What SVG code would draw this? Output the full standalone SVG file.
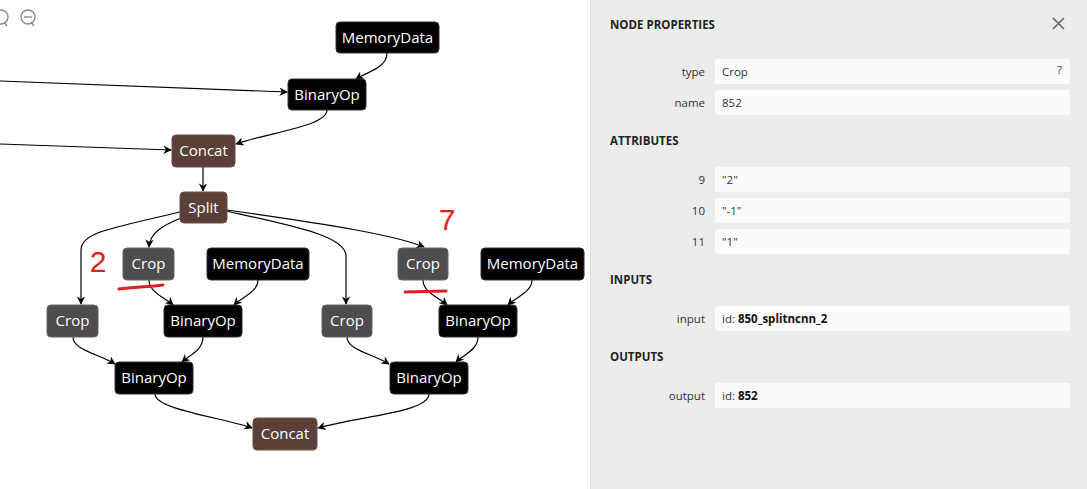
<svg xmlns="http://www.w3.org/2000/svg" width="1087" height="489" viewBox="0 0 1087 489">
<style>
.n rect{stroke:#333;stroke-width:1}
.b rect{fill:#000}.c rect{fill:#4d4d4d;stroke:#666}.k rect{fill:#5a4038;stroke:#6b5048}
.n text{font-family:"Open Sans","Segoe UI",sans-serif;font-size:15px;fill:#fff;text-anchor:middle}
#edges path{fill:none;stroke:#000;stroke-width:1.2;marker-end:url(#ah)}
.h{font-family:"Open Sans",sans-serif;font-size:11.5px;font-weight:bold;fill:#222}
.l{font-family:"Open Sans",sans-serif;font-size:11.5px;fill:#333;text-anchor:end}
.v{font-family:"Open Sans",sans-serif;font-size:11.5px;fill:#333}
.f{fill:#fbfbfb}
.red{fill:none;stroke:#e02020;stroke-width:3;stroke-linecap:round}
</style>
<defs><marker id="ah" viewBox="0 0 10 10" refX="9" refY="5" markerWidth="7" markerHeight="7" orient="auto-start-reverse"><path d="M0,0 L10,5 L0,10 L3,5 z" fill="#000"/></marker></defs>
<rect width="1087" height="489" fill="#fff"/>
<g fill="none" stroke="#888" stroke-width="1.3"><circle cx="1" cy="17" r="7"/><line x1="4" y1="22" x2="7" y2="26"/><circle cx="28" cy="17" r="7"/><line x1="24" y1="17" x2="32" y2="17"/><line x1="31" y1="22" x2="34" y2="26"/></g>
<g id="edges">
<path d="M387,53 C387,68 367,72 356,79"/>
<path d="M0,81 L287,92"/>
<path d="M327,110 C327,126 271,132 236,144"/>
<path d="M0,144 L171,150"/>
<path d="M203,167 L203,191"/>
<path d="M180,212 C113,228 81,232 81,250 L81,304"/>
<path d="M181,218 C164,225 150,232 149,247"/>
<path d="M226,211 C294,226 346,236 346,256 L346,304"/>
<path d="M227,210 C327,224 395,235 424,247"/>
<path d="M149,280 C149,292 164,297 173,305"/>
<path d="M258,280 C258,292 242,297 234,305"/>
<path d="M73,337 C73,350 99,354 115,364"/>
<path d="M203,337 C203,350 190,355 182,362"/>
<path d="M423,280 C423,292 438,297 447,305"/>
<path d="M532,280 C532,292 516,297 508,305"/>
<path d="M347,337 C347,350 373,354 389,364"/>
<path d="M478,337 C478,350 463,355 456,362"/>
<path d="M155,394 C155,410 226,418 252,428"/>
<path d="M429,394 C429,412 361,416 318,428"/>
</g>
<g id="n_mem0" class="n b"><rect x="336" y="22" width="103" height="31" rx="4"/><text x="387.5" y="43">MemoryData</text></g>
<g id="n_bin0" class="n b"><rect x="288" y="79" width="78" height="31" rx="4"/><text x="327" y="100">BinaryOp</text></g>
<g id="n_concat0" class="n k"><rect x="172" y="135" width="63" height="32" rx="4"/><text x="203.5" y="156">Concat</text></g>
<g id="n_split" class="n k"><rect x="180" y="192" width="47" height="31" rx="4"/><text x="203.5" y="213">Split</text></g>
<g id="n_crop2" class="n c"><rect x="123" y="248" width="51" height="32" rx="4"/><text x="148.5" y="269">Crop</text></g>
<g id="n_mem1" class="n b"><rect x="207" y="248" width="102" height="32" rx="4"/><text x="258" y="269">MemoryData</text></g>
<g id="n_crop7" class="n c"><rect x="398" y="248" width="50" height="32" rx="4"/><text x="423" y="269">Crop</text></g>
<g id="n_mem2" class="n b"><rect x="481" y="248" width="103" height="32" rx="4"/><text x="532.5" y="269">MemoryData</text></g>
<g id="n_cropL" class="n c"><rect x="47" y="305" width="51" height="32" rx="4"/><text x="72.5" y="326">Crop</text></g>
<g id="n_bin1" class="n b"><rect x="164" y="305" width="78" height="32" rx="4"/><text x="203" y="326">BinaryOp</text></g>
<g id="n_cropM" class="n c"><rect x="322" y="305" width="50" height="32" rx="4"/><text x="347" y="326">Crop</text></g>
<g id="n_bin2" class="n b"><rect x="439" y="305" width="78" height="32" rx="4"/><text x="478" y="326">BinaryOp</text></g>
<g id="n_bin3" class="n b"><rect x="115" y="362" width="78" height="32" rx="4"/><text x="154" y="383">BinaryOp</text></g>
<g id="n_bin4" class="n b"><rect x="390" y="362" width="78" height="32" rx="4"/><text x="429" y="383">BinaryOp</text></g>
<g id="n_concat1" class="n k"><rect x="253" y="418" width="64" height="32" rx="4"/><text x="285" y="439">Concat</text></g>
<text x="98" y="272" font-family="Liberation Sans,sans-serif" font-size="30" fill="#e02020" text-anchor="middle">2</text>
<path class="red" d="M119,289 C135,287 150,287 163,285"/>
<text x="447" y="230" font-family="Liberation Sans,sans-serif" font-size="30" fill="#e02020" text-anchor="middle">7</text>
<path class="red" d="M405,292 L446,291"/>
<rect x="590" y="0" width="497" height="489" fill="#ececec"/>
<line x1="590.5" y1="0" x2="590.5" y2="489" stroke="#ddd"/>
<text class="h" x="610" y="29">NODE PROPERTIES</text>
<path d="M1053,18 L1064,29 M1064,18 L1053,29" stroke="#666" stroke-width="1.6"/>
<rect class="f" x="715" y="59" width="355" height="25" rx="2"/><text class="l" x="705" y="76">type</text><text class="v" x="722" y="76">Crop</text><text class="v" x="1057" y="74" fill="#999" font-size="10">?</text>
<rect class="f" x="715" y="90" width="355" height="25" rx="2"/><text class="l" x="705" y="107">name</text><text class="v" x="722" y="107">852</text>
<text class="h" x="610" y="145">ATTRIBUTES</text>
<rect class="f" x="715" y="167" width="355" height="25" rx="2"/><text class="l" x="705" y="184">9</text><text class="v" x="722" y="184">"2"</text>
<rect class="f" x="715" y="198" width="355" height="25" rx="2"/><text class="l" x="705" y="215">10</text><text class="v" x="722" y="215">"-1"</text>
<rect class="f" x="715" y="229" width="355" height="25" rx="2"/><text class="l" x="705" y="246">11</text><text class="v" x="722" y="246">"1"</text>
<text class="h" x="610" y="284">INPUTS</text>
<rect class="f" x="715" y="306" width="355" height="25" rx="2"/><text class="l" x="705" y="323">input</text><text class="v" x="722" y="323">id: <tspan font-weight="bold" fill="#111">850_splitncnn_2</tspan></text>
<text class="h" x="610" y="361">OUTPUTS</text>
<rect class="f" x="715" y="383" width="355" height="25" rx="2"/><text class="l" x="705" y="400">output</text><text class="v" x="722" y="400">id: <tspan font-weight="bold" fill="#111">852</tspan></text>
</svg>
